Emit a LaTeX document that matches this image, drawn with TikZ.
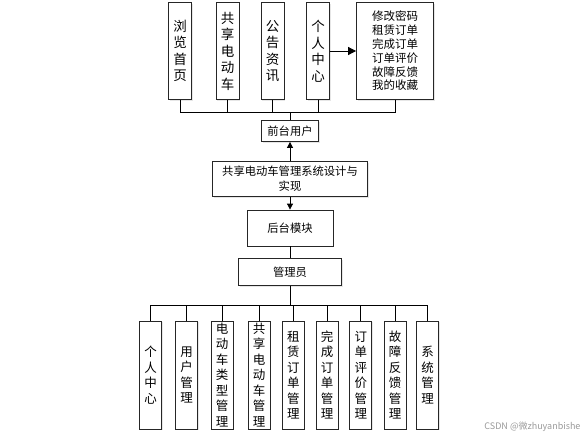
\documentclass[tikz,border=0pt]{standalone}
\usepackage{fontspec}
\setmainfont{Noto Sans CJK SC}
\usetikzlibrary{arrows.meta}
\usetikzlibrary{shadows}
\newcommand{\topbox}[3]{\node[topmod] (#1) at (#2,51) {#3};}
\newcommand{\subbox}[3]{\node[submod] (#1) at (#2,375) {#3};}

\begin{document}
\begin{tikzpicture}[x=1pt, y=-1pt,
    box/.style={draw=black!85, line width=0.8pt, fill=white, inner sep=0pt, align=center,
        drop shadow={opacity=0.2, shadow xshift=1pt, shadow yshift=-1pt}},
    topmod/.style={box, minimum width=23, minimum height=97, font=\fontsize{13.5}{16.5}\selectfont},
    submod/.style={box, minimum width=22, minimum height=108, font=\fontsize{12.5}{15.5}\selectfont},
    midmod/.style={box, font=\fontsize{11.3}{15}\selectfont},
    link/.style={line width=0.8pt},
    tip/.style={link, -{Triangle[length=6pt, width=6pt]}}]
        \useasboundingbox (0,0) rectangle (587,437);
        % front end
        \topbox{browse}{180}{浏\\览\\首\\页}
        \topbox{ebike}{227.5}{共\\享\\电\\动\\车}
        \topbox{news}{272.5}{公\\告\\资\\讯}
        \topbox{mine}{318}{个\\人\\中\\心}
        \node[box, minimum width=77, minimum height=97, font=\fontsize{11.5}{13.8}\selectfont] (center) at (395,51)
            {修改密码\\租赁订单\\完成订单\\订单评价\\故障反馈\\我的收藏};
        \draw[link, -{Triangle[length=8pt, width=8pt]}] (mine.east) -- (center.west);
        % middle
        \node[midmod, minimum width=57, minimum height=21] (front) at (290,131) {前台用户};
        \node[midmod, minimum width=155, minimum height=35] (sys) at (290,179) {共享电动车管理系统设计与\\实现};
        \node[midmod, minimum width=86, minimum height=36] (back) at (290,228) {后台模块};
        \node[midmod, minimum width=103, minimum height=27] (admin) at (290,272) {管理员};
        \coordinate (topbus) at (290,112);
        \draw[link] (browse.south) |- (topbus);
        \draw[link] (ebike.south) |- (topbus);
        \draw[link] (news.south) |- (topbus);
        \draw[link] (mine.south) |- (topbus);
        \draw[link] (center.south) |- (topbus);
        \draw[link] (topbus) -- (front.north);
        \draw[tip] (sys.north) -- (front.south);
        \draw[tip] (sys.south) -- (back.north);
        \draw[link] (back.south) -- (admin.north);
        % back end
        \subbox{self}{150.7}{个\\人\\中\\心}
        \subbox{users}{186.7}{用\\户\\管\\理}
        \subbox{types}{222.2}{电\\动\\车\\类\\型\\管\\理}
        \subbox{bikes}{259.2}{共\\享\\电\\动\\车\\管\\理}
        \subbox{rent}{293.3}{租\\赁\\订\\单\\管\\理}
        \subbox{done}{327.2}{完\\成\\订\\单\\管\\理}
        \subbox{review}{360.8}{订\\单\\评\\价\\管\\理}
        \subbox{fault}{395}{故\\障\\反\\馈\\管\\理}
        \subbox{system}{427.5}{系\\统\\管\\理}
        \coordinate (botbus) at (290,305);
        \draw[link] (admin.south) -- (botbus);
        \foreach \m in {self,users,types,bikes,rent,done,review,fault,system}
            \draw[link] (\m.north) |- (botbus);
        \node[text=black!40, font=\fontsize{9}{9}\selectfont, anchor=east] (mark) at (584,427) {CSDN @微zhuyanbishe};
\end{tikzpicture}
\end{document}
